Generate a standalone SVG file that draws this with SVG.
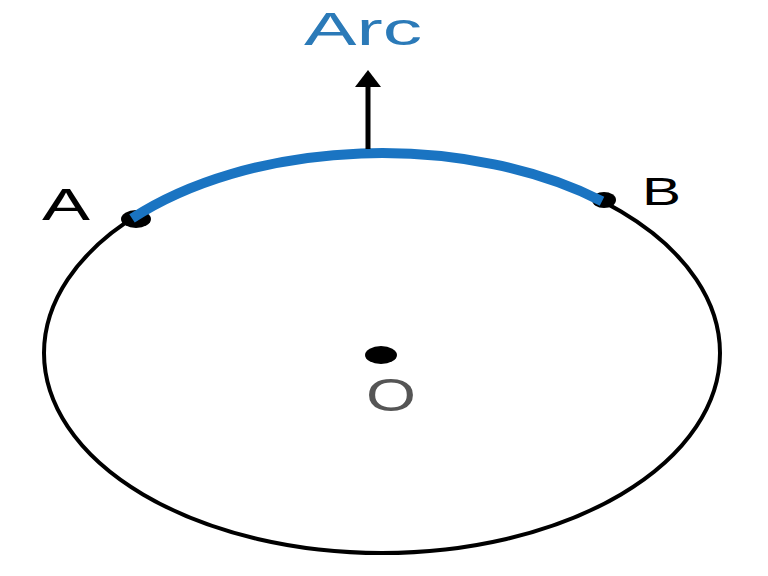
<svg xmlns="http://www.w3.org/2000/svg" width="768" height="576" viewBox="0 0 768 576">
<defs>
<style>
.lbl{font-family:"Liberation Sans",Arial,sans-serif;font-weight:400}
.dot{fill:#000}
</style>
</defs>
<rect width="768" height="576" fill="#fff"/>
<g id="circle">
<ellipse cx="382" cy="353" rx="338" ry="200" fill="none" stroke="#000" stroke-width="4"/>
</g>
<g id="pointA">
<ellipse class="dot" cx="136" cy="219" rx="15" ry="9"/>
<text class="lbl" x="42" y="220" font-size="45" textLength="48" lengthAdjust="spacingAndGlyphs" fill="#000">A</text>
</g>
<g id="pointB">
<ellipse class="dot" cx="604" cy="200" rx="12" ry="8"/>
<text class="lbl" x="642" y="205" font-size="39" textLength="39" lengthAdjust="spacingAndGlyphs" fill="#000">B</text>
</g>
<g id="arc">
<path d="M 132 218.4 A 338 200 0 0 1 602 201.2" fill="none" stroke="#1a74c2" stroke-width="10"/>
</g>
<g id="center">
<ellipse class="dot" cx="381" cy="355" rx="16" ry="9"/>
<text class="lbl" x="366" y="411" font-size="46" textLength="50" lengthAdjust="spacingAndGlyphs" fill="#555">O</text>
</g>
<g id="arcLabel">
<text class="lbl" x="304" y="45" font-size="46" textLength="118" lengthAdjust="spacingAndGlyphs" fill="#2b7ab8">Arc</text>
</g>
<g id="connectors">
<line x1="368" y1="149" x2="368" y2="86" stroke="#000" stroke-width="5"/>
<polygon points="368,70 355,87 381,87" fill="#000"/>
</g>
</svg>
